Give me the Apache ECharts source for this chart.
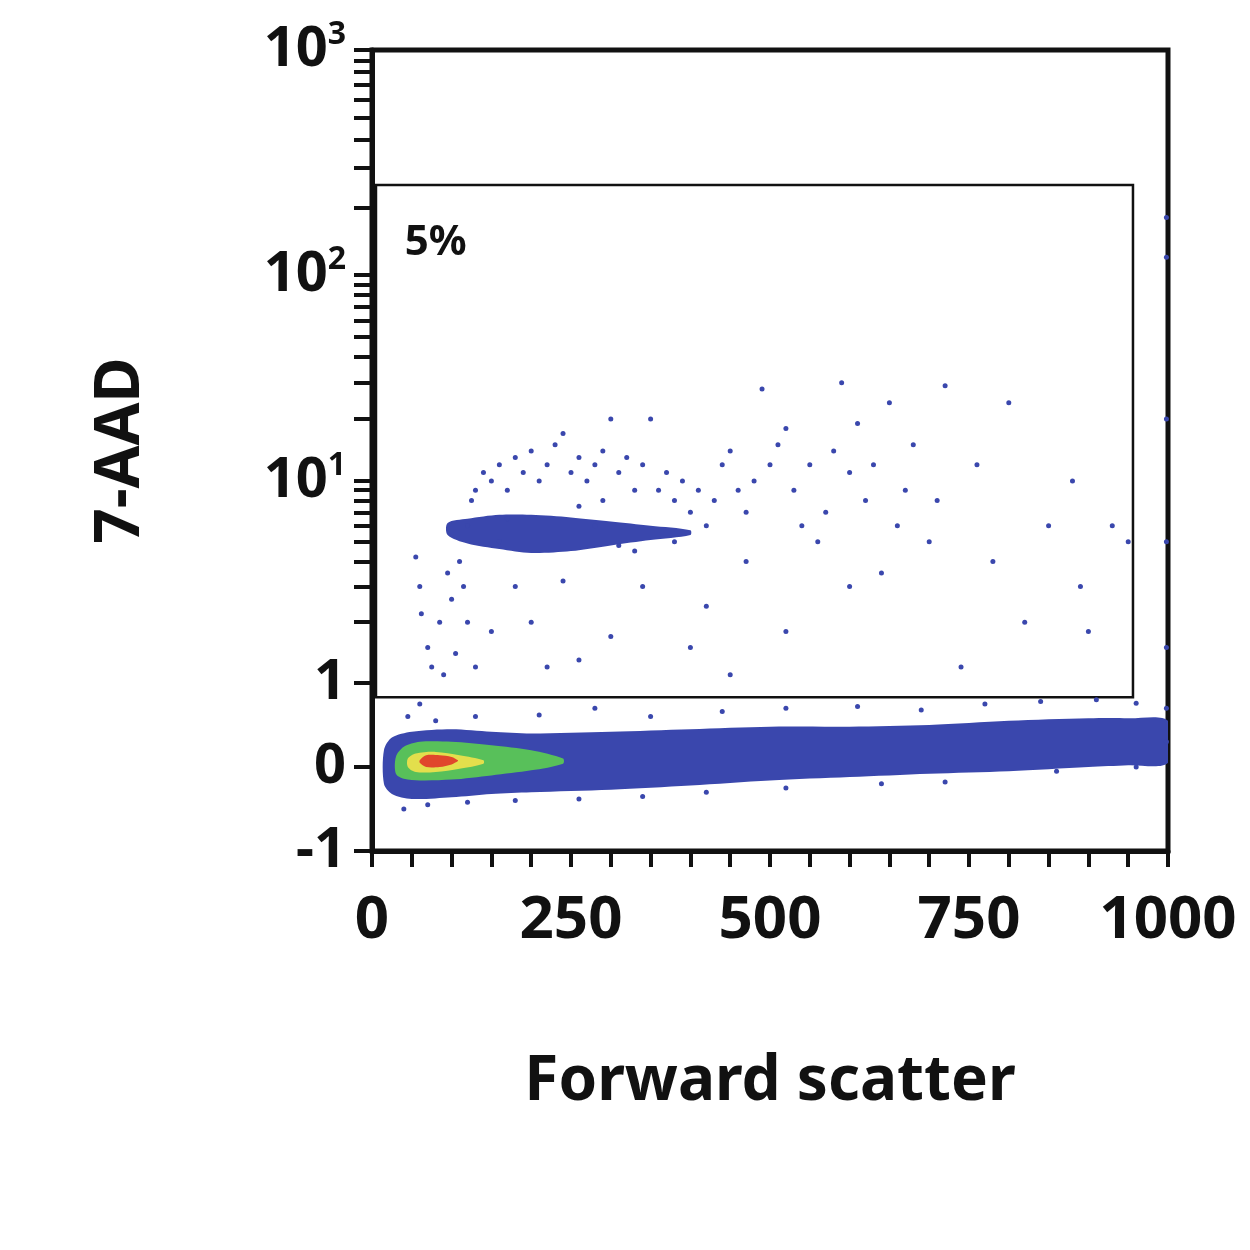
<!DOCTYPE html>
<html>
<head>
<meta charset="utf-8">
<script src="https://cdn.jsdelivr.net/npm/echarts@6/dist/echarts.min.js"></script>
<style>html,body{margin:0;background:#fff}#chart{width:1250px;height:1250px}</style>
</head>
<body>
<div id="chart"></div>
<script>
// y axis anchors (real value -> display units, biexponential-like scale)
var yAnchors = [-1, 0, 1, 10, 100, 1000];
var yPos = [0, 84, 168, 370, 576, 801];
var yMajor = [-1, 0, 1, 10, 100, 1000];
var yMinor = [2,3,4,5,6,7,8,9,20,30,40,50,60,70,80,90,200,300,400,500,600,700,800,900];
var xTicks = [0, 250, 500, 750, 1000];

// dense band envelopes (forward scatter, lower 7-AAD, upper 7-AAD)
var bandX  = [15, 25, 50, 100, 150, 200, 300, 400, 500, 600, 700, 800, 900, 950, 1000];
var bandLo = [-0.2, -0.32, -0.38, -0.36, -0.32, -0.3, -0.27, -0.22, -0.16, -0.12, -0.08, -0.05, 0.0, 0.02, 0.05];
var bandHi = [0.2, 0.35, 0.42, 0.45, 0.42, 0.4, 0.42, 0.45, 0.48, 0.48, 0.5, 0.55, 0.58, 0.58, 0.55];
var greenX  = [30, 40, 60, 100, 150, 200, 240];
var greenLo = [-0.08, -0.14, -0.16, -0.15, -0.1, -0.04, 0.04];
var greenHi = [0.12, 0.24, 0.3, 0.3, 0.26, 0.2, 0.1];
var yellowX  = [45, 55, 80, 110, 140];
var yellowLo = [0.0, -0.06, -0.06, -0.02, 0.04];
var yellowHi = [0.1, 0.16, 0.18, 0.14, 0.08];
var redX  = [60, 68, 85, 100, 108];
var redLo = [0.05, 0.0, 0.0, 0.03, 0.07];
var redHi = [0.08, 0.14, 0.14, 0.12, 0.08];
var clusterX  = [95, 120, 160, 200, 250, 300, 350, 400];
var clusterLo = [5.4, 4.9, 4.6, 4.4, 4.5, 4.8, 5.1, 5.4];
var clusterHi = [6.2, 6.5, 6.8, 6.8, 6.6, 6.3, 6.0, 5.7];

// sparse events
var dots = [[55,4.2],[60,3],[62,2.2],[70,1.5],[75,1.2],[85,2],[90,1.1],[95,3.5],[100,2.6],[105,1.4],[110,4],[115,3],[120,2],
  [125,8],[130,9],[140,11],[150,10],[160,12],[170,9],[180,13],[190,11],[200,14],[210,10],[220,12],[230,15],[240,17],[250,11],
  [260,13],[270,10],[280,12],[290,14],[300,20],[310,11],[320,13],[330,9],[340,12],[350,20],[360,9],[370,11],[380,8],[390,10],
  [400,7],[410,9],[420,6],[430,8],[440,12],[450,14],[460,9],[470,7],[480,10],[490,28],[500,12],[510,15],[520,18],[530,9],
  [540,6],[550,12],[560,5],[570,7],[580,14],[590,30],[600,11],[610,19],[620,8],[630,12],[640,3.5],[650,24],[660,6],[670,9],
  [680,15],[700,5],[710,8],[720,29],[740,1.2],[760,12],[780,4],[800,24],[820,2],[850,6],[880,10],[890,3],[900,1.8],[930,6],
  [950,5],[200,2],[240,3.2],[260,1.3],[300,1.7],[340,3],[400,1.5],[420,2.4],[450,1.1],[520,1.8],[600,3],[470,4],[380,5],
  [330,4.5],[150,1.8],[180,3],[220,1.2],[130,1.2],[160,5],[170,6.5],[260,7.5],[280,6],[310,4.8],[290,8],[120,6],
  [45,0.6],[60,0.75],[80,0.55],[130,0.6],[210,0.62],[280,0.7],[350,0.6],[440,0.66],[520,0.7],[610,0.72],[690,0.68],[770,0.75],
  [840,0.78],[910,0.8],[960,0.76],[40,-0.5],[70,-0.45],[120,-0.42],[180,-0.4],[260,-0.38],[340,-0.35],[420,-0.3],[520,-0.25],
  [640,-0.2],[720,-0.18],[860,-0.05],[960,0.0],[998,0.3],[998,0.7],[998,1.5],[998,5],[998,20],[998,120],[998,180]];

var gateX = [5, 956];
var gateY = [0.83, 251];
var gateLabel = '5%';

function ty(v) {
  for (var i = 1; i < yAnchors.length; i++) {
    if (v <= yAnchors[i] || i === yAnchors.length - 1) {
      var a = yAnchors[i - 1], b = yAnchors[i], t;
      if (a >= 1) t = (Math.log10(v) - Math.log10(a)) / (Math.log10(b) - Math.log10(a));
      else t = (v - a) / (b - a);
      return yPos[i - 1] + t * (yPos[i] - yPos[i - 1]);
    }
  }
}
function yLabel(p) {
  for (var i = 0; i < yMajor.length; i++) {
    if (Math.abs(ty(yMajor[i]) - p) < 0.5) {
      var v = yMajor[i];
      if (v >= 10) { var e = Math.round(Math.log10(v)); return '10{s|' + e + '}'; }
      return String(v);
    }
  }
  return '';
}
function envelope(xs, lo, hi) {
  var pts = [];
  for (var i = 0; i < xs.length; i++) pts.push([xs[i], ty(lo[i])]);
  for (var j = xs.length - 1; j >= 0; j--) pts.push([xs[j], ty(hi[j])]);
  return pts;
}
function blob(pts, color) {
  return {
    type: 'custom', data: [0], silent: true, clip: true,
    renderItem: function (params, api) {
      return {
        type: 'polygon',
        shape: { points: pts.map(function (p) { return api.coord(p); }), smooth: 0.3 },
        style: { fill: color }
      };
    }
  };
}

var font = '"Noto Sans", sans-serif';
var chart = echarts.init(document.getElementById('chart'));
var series = [
  blob(envelope(bandX, bandLo, bandHi), '#3a47ad'),
  blob(envelope(clusterX, clusterLo, clusterHi), '#3a47ad'),
  blob(envelope(greenX, greenLo, greenHi), '#58c05a'),
  blob(envelope(yellowX, yellowLo, yellowHi), '#e3df4c'),
  blob(envelope(redX, redLo, redHi), '#e0462c'),
  {
    type: 'scatter', symbolSize: 5, itemStyle: { color: '#3a47ad', opacity: 1 },
    data: dots.map(function (d) { return [d[0], ty(d[1])]; }),
    markArea: {
      silent: true,
      itemStyle: { color: 'rgba(0,0,0,0)', borderColor: '#111', borderWidth: 2.5 },
      label: { show: true, position: [30, 38], formatter: gateLabel,
        fontFamily: font, fontSize: 42, fontWeight: 'bold', color: '#111' },
      data: [[{ coord: [gateX[0], ty(gateY[1])] }, { coord: [gateX[1], ty(gateY[0])] }]]
    }
  }
];

chart.setOption({
  animation: false,
  grid: { left: 372, right: 82, top: 50, bottom: 399, show: true, borderColor: '#111', borderWidth: 5 },
  xAxis: {
    type: 'value', min: 0, max: 1000, interval: 50,
    name: 'Forward scatter', nameLocation: 'middle', nameGap: 200,
    nameTextStyle: { fontFamily: font, fontSize: 62, fontWeight: 'bold', color: '#111' },
    splitLine: { show: false },
    axisLine: { lineStyle: { color: '#111', width: 5 } },
    axisTick: { length: 16, lineStyle: { color: '#111', width: 4 } },
    axisLabel: { margin: 40, fontFamily: font, fontSize: 60, fontWeight: 'bold', color: '#111',
      formatter: function (v) { return xTicks.indexOf(v) >= 0 ? String(v) : ''; } }
  },
  yAxis: {
    type: 'value', min: 0, max: 801,
    name: '7-AAD', nameLocation: 'middle', nameGap: 220, nameRotate: 90,
    nameTextStyle: { fontFamily: font, fontSize: 62, fontWeight: 'bold', color: '#111' },
    splitLine: { show: false },
    axisLine: { lineStyle: { color: '#111', width: 5 } },
    axisTick: { length: 18, lineStyle: { color: '#111', width: 4 },
      customValues: yMajor.concat(yMinor).map(ty) },
    axisLabel: { margin: 26, fontFamily: font, fontSize: 56, fontWeight: 'bold', color: '#111',
      customValues: yMajor.map(ty), formatter: yLabel,
      rich: { s: { fontSize: 32, fontWeight: 'bold', verticalAlign: 'top', padding: [0, 0, 30, 0], fontFamily: font, color: '#111' } } }
  },
  series: series
});
</script>
</body>
</html>
